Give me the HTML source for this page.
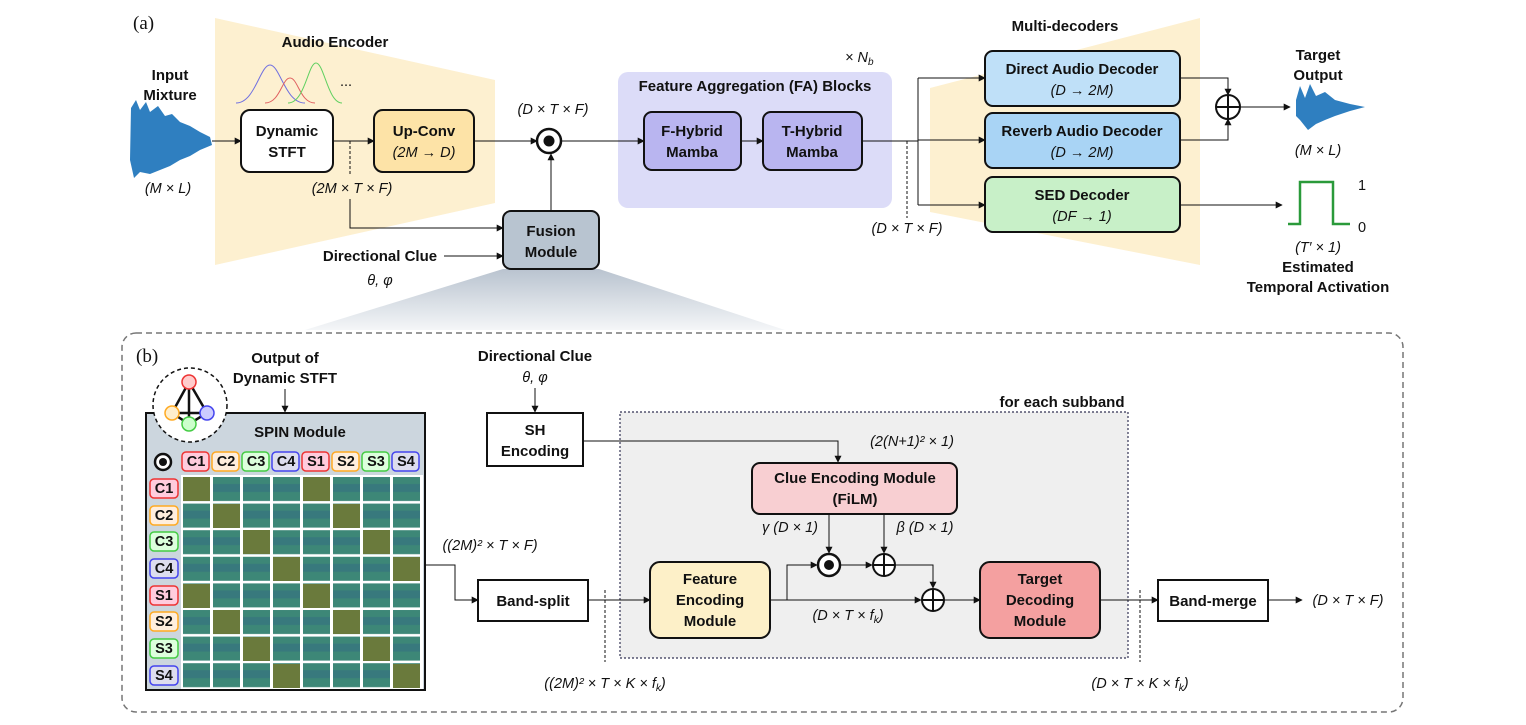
<!DOCTYPE html>
<html><head><meta charset="utf-8"><style>
body{margin:0;background:#fff}
svg{display:block}
text{font-family:"Liberation Sans",sans-serif;font-size:14.5px;fill:#111}
.b{font-weight:bold;font-size:15px}
.i{font-style:italic}
</style></head><body>
<svg width="1526" height="725" viewBox="0 0 1526 725" xmlns="http://www.w3.org/2000/svg">
<defs>
<marker id="a" viewBox="0 0 10 10" refX="9" refY="5" markerWidth="7" markerHeight="7" orient="auto"><path d="M0,0L10,5L0,10z" fill="#111"/></marker>
<linearGradient id="g" x1="0" y1="0" x2="0" y2="1"><stop offset="0" stop-color="#b9c3cf"/><stop offset="1" stop-color="#f4f6f8"/></linearGradient>
<pattern id="cp" patternUnits="userSpaceOnUse" x="182" y="476" width="30" height="26.6"><rect x="1" y="1" width="27" height="24" fill="#3d8777"/><rect x="1" y="8" width="27" height="8" fill="#356f80" opacity=".6"/></pattern>
</defs>
<text x="133" y="29" style="font-family:'Liberation Serif',serif;font-size:19px">(a)</text>
<polygon points="215,18 495,80 495,203 215,265" fill="#fdf0d0"/>
<text x="335" y="47" class="b" text-anchor="middle">Audio Encoder</text>
<path d="M236,103 C255,103 260,65 270,65 C280,65 285,103 305,103" fill="none" stroke="#7070e0"/>
<path d="M265,103 C280,103 282,78 290,78 C298,78 300,103 315,103" fill="none" stroke="#e06060"/>
<path d="M288,103 C305,103 308,63 316,63 C324,63 328,103 342,103" fill="none" stroke="#60d060"/>
<text x="340" y="86" font-size="9">...</text>
<text x="170" y="80" class="b" text-anchor="middle">Input</text>
<text x="170" y="100" class="b" text-anchor="middle">Mixture</text>
<path d="M131,108 L136,100 L140,110 L146,102 L150,112 L158,106 L165,116 L172,114 L180,122 L190,126 L200,132 L210,137 L212,145 L200,150 L190,156 L180,160 L170,166 L160,170 L150,174 L140,172 L134,178 L130,160 Z" fill="#2f7fc0"/>
<text x="168" y="193" class="i" text-anchor="middle">(M × L)</text>
<line x1="212" y1="141" x2="241" y2="141" stroke="#111" marker-end="url(#a)"/>
<rect x="241" y="110" width="92" height="62" rx="9" fill="#fff" stroke="#111" stroke-width="2"/>
<text x="287" y="136" class="b" text-anchor="middle">Dynamic</text>
<text x="287" y="157" class="b" text-anchor="middle">STFT</text>
<line x1="333" y1="141" x2="374" y2="141" stroke="#111" marker-end="url(#a)"/>
<rect x="374" y="110" width="100" height="62" rx="9" fill="#fde3a7" stroke="#111" stroke-width="2"/>
<text x="424" y="136" class="b" text-anchor="middle">Up-Conv</text>
<text x="424" y="157" text-anchor="middle" class="i">(2M → D)</text>
<line x1="350" y1="141" x2="350" y2="175" stroke="#111" stroke-dasharray="3,2"/>
<text x="352" y="193" class="i" text-anchor="middle">(2M × T × F)</text>
<polyline points="350,199 350,228 503,228" fill="none" stroke="#111" marker-end="url(#a)"/>
<line x1="474" y1="141" x2="537" y2="141" stroke="#111" marker-end="url(#a)"/>
<circle cx="549" cy="141" r="12" fill="#fff" stroke="#111" stroke-width="2.5"/><circle cx="549" cy="141" r="5.5" fill="#111"/>
<text x="553" y="114" class="i" text-anchor="middle">(D × T × F)</text>
<line x1="551" y1="211" x2="551" y2="154" stroke="#111" marker-end="url(#a)"/>
<polygon points="503,269 599,269 785,330 305,330" fill="url(#g)"/>
<rect x="503" y="211" width="96" height="58" rx="8" fill="#b8c4d0" stroke="#111" stroke-width="2"/>
<text x="551" y="236" class="b" text-anchor="middle">Fusion</text>
<text x="551" y="257" class="b" text-anchor="middle">Module</text>
<text x="380" y="261" class="b" text-anchor="middle">Directional Clue</text>
<text x="380" y="285" class="i" text-anchor="middle">θ, φ</text>
<line x1="444" y1="256" x2="503" y2="256" stroke="#111" marker-end="url(#a)"/>
<rect x="618" y="72" width="274" height="136" rx="10" fill="#dcdcf8"/>
<text x="755" y="91" class="b" text-anchor="middle">Feature Aggregation (FA) Blocks</text>
<text x="845" y="62" class="i">× N<tspan font-size="10" dy="3">b</tspan></text>
<line x1="561" y1="141" x2="644" y2="141" stroke="#111" marker-end="url(#a)"/>
<rect x="644" y="112" width="97" height="58" rx="8" fill="#b9b5f0" stroke="#111" stroke-width="2"/>
<text x="692" y="136" class="b" text-anchor="middle">F-Hybrid</text>
<text x="692" y="157" class="b" text-anchor="middle">Mamba</text>
<line x1="741" y1="141" x2="763" y2="141" stroke="#111" marker-end="url(#a)"/>
<rect x="763" y="112" width="99" height="58" rx="8" fill="#b9b5f0" stroke="#111" stroke-width="2"/>
<text x="812" y="136" class="b" text-anchor="middle">T-Hybrid</text>
<text x="812" y="157" class="b" text-anchor="middle">Mamba</text>
<polygon points="930,88 1200,18 1200,265 930,212" fill="#fdf0d0"/>
<text x="1065" y="31" class="b" text-anchor="middle">Multi-decoders</text>
<line x1="862" y1="141" x2="918" y2="141" stroke="#111"/>
<line x1="918" y1="78" x2="918" y2="205" stroke="#111"/>
<line x1="918" y1="78" x2="985" y2="78" stroke="#111" marker-end="url(#a)"/>
<line x1="918" y1="140" x2="985" y2="140" stroke="#111" marker-end="url(#a)"/>
<line x1="918" y1="205" x2="985" y2="205" stroke="#111" marker-end="url(#a)"/>
<line x1="907" y1="141" x2="907" y2="218" stroke="#111" stroke-dasharray="3,2"/>
<text x="907" y="233" class="i" text-anchor="middle">(D × T × F)</text>
<rect x="985" y="51" width="195" height="55" rx="8" fill="#bfe0f8" stroke="#111" stroke-width="2"/>
<text x="1082" y="74" class="b" text-anchor="middle">Direct Audio Decoder</text>
<text x="1082" y="95" class="i" text-anchor="middle">(D → 2M)</text>
<rect x="985" y="113" width="195" height="55" rx="8" fill="#a9d4f5" stroke="#111" stroke-width="2"/>
<text x="1082" y="136" class="b" text-anchor="middle">Reverb Audio Decoder</text>
<text x="1082" y="157" class="i" text-anchor="middle">(D → 2M)</text>
<rect x="985" y="177" width="195" height="55" rx="8" fill="#c8f0c8" stroke="#111" stroke-width="2"/>
<text x="1082" y="200" class="b" text-anchor="middle">SED Decoder</text>
<text x="1082" y="221" class="i" text-anchor="middle">(DF → 1)</text>
<polyline points="1180,78 1228,78 1228,95" fill="none" stroke="#111" marker-end="url(#a)"/>
<polyline points="1180,140 1228,140 1228,119" fill="none" stroke="#111" marker-end="url(#a)"/>
<circle cx="1228" cy="107" r="12" fill="#fff" stroke="#111" stroke-width="2"/>
<path d="M1216,107H1240M1228,95V119" stroke="#111" stroke-width="2"/>
<line x1="1240" y1="107" x2="1290" y2="107" stroke="#111" marker-end="url(#a)"/>
<text x="1318" y="60" class="b" text-anchor="middle">Target</text>
<text x="1318" y="80" class="b" text-anchor="middle">Output</text>
<path d="M1296,100 L1300,86 L1305,98 L1310,84 L1316,96 L1325,92 L1335,100 L1350,104 L1365,107 L1350,111 L1335,116 L1325,120 L1316,124 L1308,130 L1300,120 L1296,116 Z" fill="#2f7fc0"/>
<text x="1318" y="155" class="i" text-anchor="middle">(M × L)</text>
<line x1="1180" y1="205" x2="1282" y2="205" stroke="#111" marker-end="url(#a)"/>
<polyline points="1288,224 1300,224 1300,182 1333,182 1333,224 1350,224" fill="none" stroke="#2a9a3a" stroke-width="2.5"/>
<text x="1358" y="190">1</text><text x="1358" y="232">0</text>
<text x="1318" y="252" class="i" text-anchor="middle">(T′ × 1)</text>
<text x="1318" y="272" class="b" text-anchor="middle">Estimated</text>
<text x="1318" y="292" class="b" text-anchor="middle">Temporal Activation</text>
<rect x="122" y="333" width="1281" height="379" rx="14" fill="none" stroke="#777" stroke-width="1.5" stroke-dasharray="6,4"/>
<text x="136" y="362" style="font-family:'Liberation Serif',serif;font-size:19px">(b)</text>
<text x="285" y="363" class="b" text-anchor="middle">Output of</text>
<text x="285" y="383" class="b" text-anchor="middle">Dynamic STFT</text>
<line x1="285" y1="389" x2="285" y2="412" stroke="#111" marker-end="url(#a)"/>
<rect x="146" y="413" width="279" height="277" fill="#ccd6de" stroke="#111" stroke-width="2"/>
<circle cx="190" cy="405" r="37" fill="#fff" stroke="#111" stroke-width="1.5" stroke-dasharray="4,3"/>
<path d="M189,382 L172,413 L189,424 L207,413 Z M189,382 V424 M172,413 H207" fill="none" stroke="#111" stroke-width="2.5"/>
<circle cx="189" cy="382" r="7" fill="#fcc" stroke="#e33" stroke-width="1.5"/>
<circle cx="172" cy="413" r="7" fill="#fec" stroke="#fa2" stroke-width="1.5"/>
<circle cx="207" cy="413" r="7" fill="#ccf" stroke="#44e" stroke-width="1.5"/>
<circle cx="189" cy="424" r="7" fill="#cfc" stroke="#4c4" stroke-width="1.5"/>
<text x="300" y="437" class="b" text-anchor="middle">SPIN Module</text>
<circle cx="163" cy="462" r="8" fill="#fff" stroke="#111" stroke-width="2.5"/><circle cx="163" cy="462" r="4" fill="#111"/>
<g stroke-width="1.5">
<rect x="182" y="452" width="27" height="19" rx="4" fill="#fcd" stroke="#e33"/><rect x="212" y="452" width="27" height="19" rx="4" fill="#fed" stroke="#fa2"/><rect x="242" y="452" width="27" height="19" rx="4" fill="#dfd" stroke="#4c4"/><rect x="272" y="452" width="27" height="19" rx="4" fill="#dde" stroke="#44e"/><rect x="302" y="452" width="27" height="19" rx="4" fill="#fcd" stroke="#e33"/><rect x="332" y="452" width="27" height="19" rx="4" fill="#fed" stroke="#fa2"/><rect x="362" y="452" width="27" height="19" rx="4" fill="#dfd" stroke="#4c4"/><rect x="392" y="452" width="27" height="19" rx="4" fill="#dde" stroke="#44e"/>
<rect x="150" y="479" width="28" height="19" rx="4" fill="#fcd" stroke="#e33"/><rect x="150" y="506" width="28" height="19" rx="4" fill="#fed" stroke="#fa2"/><rect x="150" y="532" width="28" height="19" rx="4" fill="#dfd" stroke="#4c4"/><rect x="150" y="559" width="28" height="19" rx="4" fill="#dde" stroke="#44e"/><rect x="150" y="586" width="28" height="19" rx="4" fill="#fcd" stroke="#e33"/><rect x="150" y="612" width="28" height="19" rx="4" fill="#fed" stroke="#fa2"/><rect x="150" y="639" width="28" height="19" rx="4" fill="#dfd" stroke="#4c4"/><rect x="150" y="666" width="28" height="19" rx="4" fill="#dde" stroke="#44e"/>
</g>
<g style="font-size:13px">
<text x="196" y="466" font-weight="bold" text-anchor="middle">C1</text><text x="226" y="466" font-weight="bold" text-anchor="middle">C2</text><text x="256" y="466" font-weight="bold" text-anchor="middle">C3</text><text x="286" y="466" font-weight="bold" text-anchor="middle">C4</text><text x="316" y="466" font-weight="bold" text-anchor="middle">S1</text><text x="346" y="466" font-weight="bold" text-anchor="middle">S2</text><text x="376" y="466" font-weight="bold" text-anchor="middle">S3</text><text x="406" y="466" font-weight="bold" text-anchor="middle">S4</text>
<text x="164" y="493" font-weight="bold" text-anchor="middle">C1</text><text x="164" y="520" font-weight="bold" text-anchor="middle">C2</text><text x="164" y="546" font-weight="bold" text-anchor="middle">C3</text><text x="164" y="573" font-weight="bold" text-anchor="middle">C4</text><text x="164" y="600" font-weight="bold" text-anchor="middle">S1</text><text x="164" y="626" font-weight="bold" text-anchor="middle">S2</text><text x="164" y="653" font-weight="bold" text-anchor="middle">S3</text><text x="164" y="680" font-weight="bold" text-anchor="middle">S4</text>
</g>
<rect x="181" y="475" width="242" height="214" fill="#fff"/>
<rect x="182" y="476" width="240" height="213" fill="url(#cp)"/>
<g fill="#6a7a3c">
<rect x="183" y="477" width="27" height="24"/><rect x="303" y="477" width="27" height="24"/>
<rect x="213" y="504" width="27" height="24"/><rect x="333" y="504" width="27" height="24"/>
<rect x="243" y="530" width="27" height="24"/><rect x="363" y="530" width="27" height="24"/>
<rect x="273" y="557" width="27" height="24"/><rect x="393" y="557" width="27" height="24"/>
<rect x="183" y="584" width="27" height="24"/><rect x="303" y="584" width="27" height="24"/>
<rect x="213" y="610" width="27" height="24"/><rect x="333" y="610" width="27" height="24"/>
<rect x="243" y="637" width="27" height="24"/><rect x="363" y="637" width="27" height="24"/>
<rect x="273" y="664" width="27" height="24"/><rect x="393" y="664" width="27" height="24"/>
</g>
<text x="490" y="550" class="i" text-anchor="middle">((2M)² × T × F)</text>
<polyline points="425,565 455,565 455,600 478,600" fill="none" stroke="#111" marker-end="url(#a)"/>
<rect x="478" y="580" width="110" height="41" fill="#fff" stroke="#111" stroke-width="2"/>
<text x="533" y="606" class="b" text-anchor="middle">Band-split</text>
<text x="535" y="361" class="b" text-anchor="middle">Directional Clue</text>
<text x="535" y="382" class="i" text-anchor="middle">θ, φ</text>
<line x1="535" y1="388" x2="535" y2="412" stroke="#111" marker-end="url(#a)"/>
<rect x="487" y="413" width="96" height="53" fill="#fff" stroke="#111" stroke-width="2"/>
<text x="535" y="435" class="b" text-anchor="middle">SH</text>
<text x="535" y="456" class="b" text-anchor="middle">Encoding</text>
<rect x="620" y="412" width="508" height="246" fill="#efefef" stroke="#335" stroke-width="1.2" stroke-dasharray="2,2"/>
<text x="1062" y="407" class="b" text-anchor="middle">for each subband</text>
<polyline points="583,441 838,441 838,462" fill="none" stroke="#111" marker-end="url(#a)"/>
<text x="912" y="446" class="i" text-anchor="middle">(2(N+1)² × 1)</text>
<rect x="752" y="463" width="205" height="51" rx="8" fill="#f8cfd2" stroke="#111" stroke-width="2"/>
<text x="855" y="483" class="b" text-anchor="middle">Clue Encoding Module</text>
<text x="855" y="504" class="b" text-anchor="middle">(FiLM)</text>
<text x="790" y="532" class="i" text-anchor="middle">γ (D × 1)</text>
<text x="925" y="532" class="i" text-anchor="middle">β (D × 1)</text>
<line x1="829" y1="514" x2="829" y2="553" stroke="#111" marker-end="url(#a)"/>
<line x1="884" y1="514" x2="884" y2="553" stroke="#111" marker-end="url(#a)"/>
<line x1="588" y1="600" x2="650" y2="600" stroke="#111" marker-end="url(#a)"/>
<line x1="605" y1="590" x2="605" y2="662" stroke="#111" stroke-dasharray="3,2"/>
<text x="605" y="688" class="i" text-anchor="middle">((2M)² × T × K × f<tspan font-size="10" dy="3">k</tspan><tspan dy="-3">)</tspan></text>
<rect x="650" y="562" width="120" height="76" rx="10" fill="#fdf0c8" stroke="#111" stroke-width="2"/>
<text x="710" y="584" class="b" text-anchor="middle">Feature</text>
<text x="710" y="605" class="b" text-anchor="middle">Encoding</text>
<text x="710" y="626" class="b" text-anchor="middle">Module</text>
<line x1="770" y1="600" x2="921" y2="600" stroke="#111" marker-end="url(#a)"/>
<polyline points="787,600 787,565 817,565" fill="none" stroke="#111" marker-end="url(#a)"/>
<circle cx="829" cy="565" r="11" fill="#fff" stroke="#111" stroke-width="2.5"/><circle cx="829" cy="565" r="5" fill="#111"/>
<line x1="840" y1="565" x2="872" y2="565" stroke="#111" marker-end="url(#a)"/>
<circle cx="884" cy="565" r="11" fill="#fff" stroke="#111" stroke-width="2"/><path d="M873,565H895M884,554V576" stroke="#111" stroke-width="2"/>
<polyline points="895,565 933,565 933,588" fill="none" stroke="#111" marker-end="url(#a)"/>
<circle cx="933" cy="600" r="11" fill="#fff" stroke="#111" stroke-width="2"/><path d="M922,600H944M933,589V611" stroke="#111" stroke-width="2"/>
<text x="848" y="620" class="i" text-anchor="middle">(D × T × f<tspan font-size="10" dy="3">k</tspan><tspan dy="-3">)</tspan></text>
<line x1="944" y1="600" x2="980" y2="600" stroke="#111" marker-end="url(#a)"/>
<rect x="980" y="562" width="120" height="76" rx="10" fill="#f4a0a0" stroke="#111" stroke-width="2"/>
<text x="1040" y="584" class="b" text-anchor="middle">Target</text>
<text x="1040" y="605" class="b" text-anchor="middle">Decoding</text>
<text x="1040" y="626" class="b" text-anchor="middle">Module</text>
<line x1="1100" y1="600" x2="1158" y2="600" stroke="#111" marker-end="url(#a)"/>
<line x1="1140" y1="590" x2="1140" y2="662" stroke="#111" stroke-dasharray="3,2"/>
<text x="1140" y="688" class="i" text-anchor="middle">(D × T × K × f<tspan font-size="10" dy="3">k</tspan><tspan dy="-3">)</tspan></text>
<rect x="1158" y="580" width="110" height="41" fill="#fff" stroke="#111" stroke-width="2"/>
<text x="1213" y="606" class="b" text-anchor="middle">Band-merge</text>
<line x1="1268" y1="600" x2="1302" y2="600" stroke="#111" marker-end="url(#a)"/>
<text x="1348" y="605" class="i" text-anchor="middle">(D × T × F)</text>
</svg>
</body></html>
